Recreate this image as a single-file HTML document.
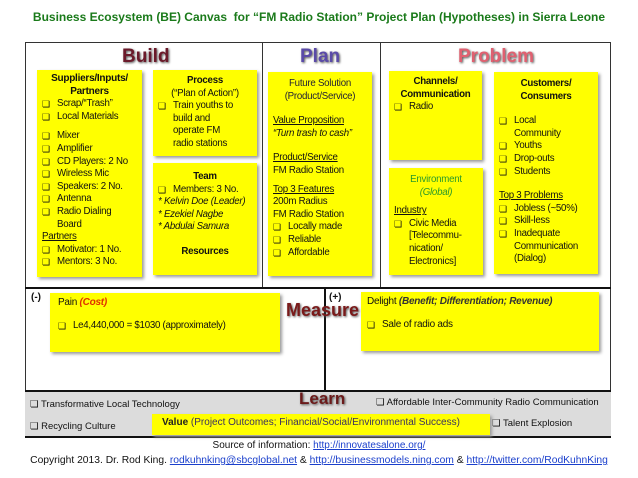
<!DOCTYPE html>
<html><head><meta charset="utf-8"><style>
*{margin:0;padding:0;box-sizing:border-box}
body{width:638px;height:478px;background:#fff;font-family:"Liberation Sans",sans-serif;position:relative;overflow:hidden;color:#111}
.a{position:absolute}
.y{position:absolute;background:#ffff00;box-shadow:2px 2px 3px #999;font-size:9.7px;letter-spacing:-0.25px;line-height:12.6px;padding:3px 5px;white-space:nowrap}
.c{text-align:center}
.b{font-weight:bold}
.u{text-decoration:underline}
.i{font-style:italic}
.cb{display:flex}
.cb:before{content:"\274F";font-size:9px;width:15px;flex:none}
.h{position:absolute;font-weight:bold;font-size:19px;text-shadow:1px 1px 2px #555;font-family:"Liberation Sans",sans-serif}
.ln{color:#1a3fcc;text-decoration:underline}
</style></head><body>
<div class="a b" style="left:0;width:638px;top:10px;text-align:center;font-size:12px;color:#1a7a1a">Business Ecosystem (BE) Canvas &nbsp;for “FM Radio Station” Project Plan (Hypotheses) in Sierra Leone</div>
<div class="a" style="left:25px;top:42px;width:586px;height:396px;border:1.5px solid #333"></div>
<div class="a" style="left:262px;top:42px;width:1px;height:246px;background:#333"></div>
<div class="a" style="left:380px;top:42px;width:1px;height:246px;background:#333"></div>
<div class="a" style="left:25px;top:287px;width:586px;height:2px;background:#111"></div>
<div class="a" style="left:324px;top:288px;width:2px;height:102px;background:#111"></div>
<div class="a" style="left:25px;top:390px;width:586px;height:48px;background:#dcdcdc;border-top:2px solid #111;border-bottom:2px solid #111"></div>

<div class="h" style="left:122px;top:46px;color:#6b1a2a">Build</div>
<div class="h" style="left:300px;top:46px;color:#5a4aa8">Plan</div>
<div class="h" style="left:458px;top:46px;color:#e06070">Problem</div>

<div class="y" style="left:37px;top:70px;width:105px;height:207px">
<div class="c b" style="font-size:10px">Suppliers/Inputs/<br>Partners</div>
<div class="cb">Scrap/“Trash”</div><div class="cb">Local Materials</div>
<div style="height:7px"></div>
<div class="cb">Mixer</div><div class="cb">Amplifier</div><div class="cb">CD Players: 2 No</div><div class="cb">Wireless Mic</div><div class="cb">Speakers: 2 No.</div><div class="cb">Antenna</div><div class="cb">Radio Dialing<br>Board</div>
<div class="u">Partners</div><div class="cb">Motivator: 1 No.</div><div class="cb">Mentors: 3 No.</div>
</div>
<div class="y" style="left:153px;top:70px;width:104px;height:86px;padding-top:5px">
<div class="c b">Process</div><div class="c">(“Plan of Action”)</div>
<div class="cb">Train youths to<br>build and<br>operate FM<br>radio stations</div></div>
<div class="y" style="left:153px;top:163px;width:104px;height:112px;padding-top:8px">
<div class="c b">Team</div><div class="cb">Members: 3 No.</div>
<div class="i">* Kelvin Doe (Leader)</div><div class="i">* Ezekiel Nagbe</div><div class="i">* Abdulai Samura</div>
<div class="c b" style="margin-top:12px">Resources</div></div>
<div class="y" style="left:268px;top:72px;width:104px;height:204px;padding-top:6px">
<div class="c" style="color:#223">Future Solution<br>(Product/Service)</div>
<div style="height:12px"></div>
<div class="u">Value Proposition</div><div class="i">“Turn trash to cash”</div>
<div style="height:12px"></div>
<div class="u">Product/Service</div><div>FM Radio Station</div>
<div style="height:6px"></div>
<div class="u">Top 3 Features</div><div>200m Radius</div><div>FM Radio Station</div>
<div class="cb">Locally made</div><div class="cb">Reliable</div><div class="cb">Affordable</div></div>
<div class="y" style="left:389px;top:71px;width:93px;height:89px;padding-top:5px">
<div class="c b">Channels/<br>Communication</div><div class="cb">Radio</div></div>
<div class="y" style="left:389px;top:168px;width:94px;height:107px;padding-top:6px">
<div class="c" style="color:#2a9a2a">Environment</div><div class="c i" style="color:#2a9a2a">(Global)</div>
<div style="height:6px"></div>
<div class="u">Industry</div><div class="cb">Civic Media<br>[Telecommu-<br>nication/<br>Electronics]</div></div>
<div class="y" style="left:494px;top:72px;width:104px;height:202px;padding-top:6px">
<div class="c b">Customers/<br>Consumers</div>
<div style="height:12px"></div>
<div class="cb">Local<br>Community</div><div class="cb">Youths</div><div class="cb">Drop-outs</div><div class="cb">Students</div>
<div style="height:12px"></div>
<div class="u">Top 3 Problems</div><div class="cb">Jobless (~50%)</div><div class="cb">Skill-less</div><div class="cb">Inadequate<br>Communication<br>(Dialog)</div></div>

<div class="a b" style="left:31px;top:292px;font-size:10px">(-)</div>
<div class="a b" style="left:329px;top:292px;font-size:10px">(+)</div>
<div class="y" style="left:50px;top:293px;width:230px;height:59px;padding:4px 8px">
<div style="font-size:10px">Pain <span class="i b" style="color:#e03000">(Cost)</span></div><div style="height:10px"></div>
<div class="cb">Le4,440,000 = $1030 (approximately)</div></div>
<div class="h" style="left:286px;top:300px;color:#7a1a1a;font-size:18px">Measure</div>
<div class="y" style="left:361px;top:292px;width:238px;height:59px;padding:4px 6px">
<div style="font-size:10px">Delight <span class="i b" style="color:#333">(Benefit; Differentiation; Revenue)</span></div><div style="height:10px"></div>
<div class="cb" style="font-size:10px">Sale of radio ads</div></div>

<div class="h" style="left:299px;top:389px;color:#6b1a1a;font-size:17px">Learn</div>
<div class="a" style="left:30px;top:399px;font-size:9.5px">❏ Transformative Local Technology</div>
<div class="a" style="left:376px;top:397px;font-size:9.5px">❏ Affordable Inter-Community Radio Communication</div>
<div class="a" style="left:30px;top:421px;font-size:9.5px">❏ Recycling Culture</div>
<div class="a" style="left:492px;top:418px;font-size:9.5px">❏ Talent Explosion</div>
<div class="y" style="left:152px;top:414px;width:338px;height:21px;padding:3px 10px;font-size:10px;letter-spacing:0;color:#222"><b>Value</b> <span style="color:#3a3060">(Project Outcomes; Financial/Social/Environmental Success)</span></div>

<div class="a" style="left:0;width:638px;top:440px;text-align:center;font-size:10px">Source of information: <span class="ln">http://innovatesalone.org/</span></div>
<div class="a" style="left:0;width:638px;top:455px;text-align:center;font-size:10.3px">Copyright 2013. Dr. Rod King. <span class="ln">rodkuhnking@sbcglobal.net</span> &amp; <span class="ln">http://businessmodels.ning.com</span> &amp; <span class="ln">http://twitter.com/RodKuhnKing</span></div>
</body></html>
